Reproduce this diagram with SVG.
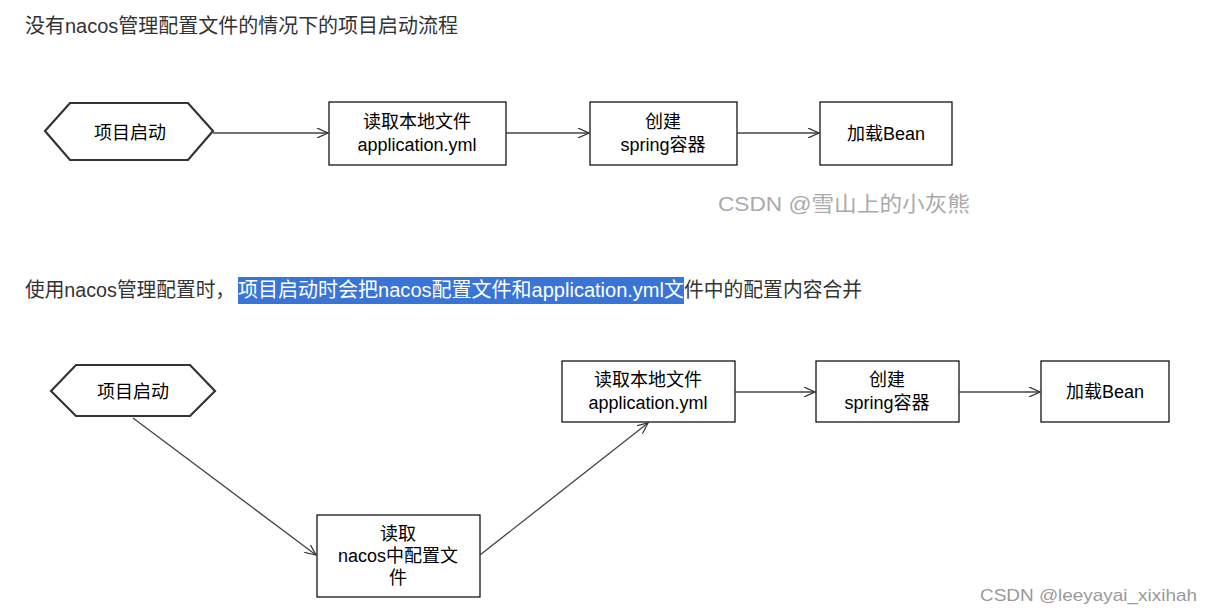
<svg xmlns="http://www.w3.org/2000/svg" width="1208" height="614" viewBox="0 0 1208 614">
<defs>
<marker id="ah" markerWidth="12" markerHeight="10" refX="11" refY="5" orient="auto" markerUnits="userSpaceOnUse"><path d="M0,0 L11,5 L0,10" fill="none" stroke="#333" stroke-width="1.2"/></marker>
<style>
.t{font-family:"Liberation Sans","Noto Sans CJK SC",sans-serif;font-size:20px;fill:#333}
.n{font-family:"Liberation Sans","Noto Sans CJK SC",sans-serif;font-size:18px;fill:#000;text-anchor:middle}
.b{fill:#fff;stroke:#000;stroke-width:1.2}
.h{fill:#fff;stroke:#333;stroke-width:2.2}
.c{stroke:#444;stroke-width:1.3;fill:none;marker-end:url(#ah)}
.w{font-family:"Liberation Sans","Noto Sans CJK SC",sans-serif;fill:#aaa}
</style>
</defs>
<rect width="1208" height="614" fill="#fff"/>
<text class="t" x="25" y="33" textLength="433" lengthAdjust="spacingAndGlyphs">没有nacos管理配置文件的情况下的项目启动流程</text>
<g id="start1"><polygon class="h" points="45,131 70,103 188,103 213,131 188,160 70,160"/><text class="n" x="130" y="139">项目启动</text></g>
<g id="read1"><rect class="b" x="329" y="102" width="177" height="63"/><text class="n" x="417" y="128">读取本地文件</text><text class="n" x="417" y="151">application.yml</text></g>
<g id="spring1"><rect class="b" x="590" y="102" width="147" height="63"/><text class="n" x="663" y="128">创建</text><text class="n" x="663" y="151">spring容器</text></g>
<g id="bean1"><rect class="b" x="820" y="102" width="132" height="63"/><text class="n" x="886" y="140">加载Bean</text></g>
<text class="w" x="718" y="211" font-size="21" textLength="252" lengthAdjust="spacingAndGlyphs">CSDN @雪山上的小灰熊</text>
<text class="t" x="25" y="297" textLength="210" lengthAdjust="spacingAndGlyphs">使用nacos管理配置时，</text>
<rect x="238" y="277" width="446" height="27" fill="#3875d7"/>
<text class="t" x="238" y="297" style="fill:#fff" textLength="446" lengthAdjust="spacingAndGlyphs">项目启动时会把nacos配置文件和application.yml文</text>
<text class="t" x="684" y="297" textLength="178" lengthAdjust="spacingAndGlyphs">件中的配置内容合并</text>
<g id="start2"><polygon class="h" points="51,391 76,365 190,365 215,391 190,416 76,416"/><text class="n" x="133" y="398">项目启动</text></g>
<g id="read2"><rect class="b" x="562" y="361" width="173" height="61"/><text class="n" x="648" y="386">读取本地文件</text><text class="n" x="648" y="409">application.yml</text></g>
<g id="spring2"><rect class="b" x="816" y="361" width="143" height="61"/><text class="n" x="887" y="386">创建</text><text class="n" x="887" y="409">spring容器</text></g>
<g id="bean2"><rect class="b" x="1041" y="361" width="128" height="61"/><text class="n" x="1105" y="398">加载Bean</text></g>
<g id="nacos"><rect class="b" x="317" y="515" width="163" height="82"/><text class="n" x="398" y="540">读取</text><text class="n" x="398" y="562">nacos中配置文</text><text class="n" x="398" y="584">件</text></g>
<g id="connectors">
<line class="c" x1="213" y1="133" x2="328" y2="133"/>
<line class="c" x1="506" y1="133" x2="589" y2="133"/>
<line class="c" x1="737" y1="133" x2="819" y2="133"/>
<line class="c" x1="133" y1="418" x2="316" y2="555"/>
<line class="c" x1="480" y1="555" x2="648" y2="423"/>
<line class="c" x1="735" y1="392" x2="815" y2="392"/>
<line class="c" x1="959" y1="392" x2="1040" y2="392"/>
</g>
<text class="w" x="980" y="601" font-size="17" style="fill:#999" textLength="217" lengthAdjust="spacingAndGlyphs">CSDN @leeyayai_xixihah</text>
</svg>
